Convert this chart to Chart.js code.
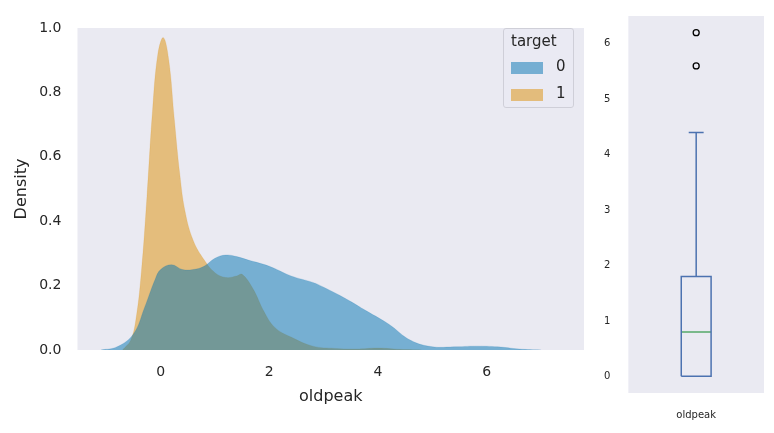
<!DOCTYPE html>
<html><head><meta charset="utf-8">
<script src="https://cdn.jsdelivr.net/npm/chart.js@4"></script>
<style>
body{margin:0;background:#fff;width:774px;height:433px;overflow:hidden;font-family:"DejaVu Sans",sans-serif;}
#c1{position:absolute;left:0;top:0;}
#c2{position:absolute;left:590px;top:0;}
#lg{position:absolute;left:503px;top:28px;width:69px;height:78px;background:rgba(234,234,242,0.8);border:1px solid #cfcfd8;border-radius:3px;font-size:15px;color:#262626;}
#lg .t{position:absolute;left:7px;top:3px;}
#lg .r{position:absolute;left:7px;width:32px;height:12px;}
#lg .l{position:absolute;left:52px;}
</style></head><body>
<canvas id="c1" width="600" height="433"></canvas>
<canvas id="c2" width="184" height="433"></canvas>
<div id="lg"><div class="t">target</div>
<div class="r" style="top:33px;background:rgba(1,115,178,0.5)"></div><div class="l" style="top:28px">0</div>
<div class="r" style="top:60px;background:rgba(222,143,5,0.5)"></div><div class="l" style="top:55px">1</div></div>
<script>
const x0=[-1.1,-0.8,-0.5,-0.3,-0.1,0,0.2,0.4,0.6,0.8,1.0,1.2,1.4,1.6,2.0,2.4,2.8,3.0,3.4,3.8,4.2,4.6,5.0,5.4,5.8,6.2,6.6,7.0];
const d0=[0,0.01,0.05,0.13,0.22,0.25,0.265,0.25,0.25,0.26,0.285,0.295,0.29,0.28,0.26,0.23,0.21,0.195,0.16,0.12,0.08,0.03,0.01,0.01,0.012,0.01,0.003,0];
const x1=[-0.7,-0.55,-0.45,-0.35,-0.25,-0.15,-0.05,0.05,0.15,0.25,0.35,0.45,0.6,0.8,1.0,1.2,1.4,1.5,1.7,1.9,2.1,2.4,2.8,3.2,3.6,4.0,4.4,4.8];
const d1=[0,0.03,0.1,0.25,0.48,0.74,0.92,0.97,0.9,0.72,0.55,0.43,0.34,0.28,0.24,0.225,0.23,0.235,0.19,0.12,0.07,0.04,0.012,0.005,0.003,0.006,0.002,0];
const boxQ1=0,boxMed=0.8,boxQ3=1.8,whiskLo=0,whiskHi=4.4;
const outliers=[5.6,6.2];
const xTicks0=[0,2,4,6];
const tc='#262626';
Chart.defaults.font.family='"DejaVu Sans",sans-serif';
const bgPlug={id:'bg',beforeDraw(c){const a=c.chartArea,x=c.ctx;x.save();x.fillStyle='#eaeaf2';x.fillRect(a.left,a.top,a.right-a.left,a.bottom-a.top);x.restore();}};
const pts=(xs,ys)=>xs.map((v,i)=>({x:v,y:ys[i]}));
new Chart(document.getElementById('c1'),{type:'line',
data:{datasets:[
{data:pts(x1,d1),backgroundColor:'rgba(222,143,5,0.5)',borderColor:'rgba(222,143,5,0.15)',borderWidth:1,fill:'origin',tension:0.4,pointRadius:0,order:2},
{data:pts(x0,d0),backgroundColor:'rgba(1,115,178,0.5)',borderColor:'rgba(1,115,178,0.15)',borderWidth:1,fill:'origin',tension:0.4,pointRadius:0,order:1}]},
options:{responsive:false,animation:false,layout:{padding:{top:28,right:16,bottom:23,left:8}},
plugins:{legend:{display:false},tooltip:{enabled:false}},
scales:{x:{type:'linear',min:-1.53,max:7.79,grid:{display:false},border:{display:false},
afterBuildTicks(s){s.ticks=xTicks0.map(v=>({value:v}));},
ticks:{color:tc,font:{size:14},padding:6},title:{display:true,text:'oldpeak',color:tc,font:{size:16},padding:{top:0}}},
y:{min:0,max:1.0,grid:{display:false},border:{display:false},ticks:{stepSize:0.2,color:tc,font:{size:14},padding:8,callback:v=>v.toFixed(1)},
title:{display:true,text:'Density',color:tc,font:{size:16},padding:{bottom:0}}}}},
plugins:[bgPlug]});
const bc='#4c72b0';
const w=0.22;
new Chart(document.getElementById('c2'),{type:'scatter',
data:{datasets:[
{data:[{x:-w,y:boxQ1},{x:w,y:boxQ1},{x:w,y:boxQ3},{x:-w,y:boxQ3},{x:-w,y:boxQ1}],showLine:true,borderColor:bc,borderWidth:1.5,pointRadius:0,tension:0},
{data:[{x:0,y:boxQ3},{x:0,y:whiskHi}],showLine:true,borderColor:bc,borderWidth:1.5,pointRadius:0},
{data:[{x:-w/2,y:whiskHi},{x:w/2,y:whiskHi}],showLine:true,borderColor:bc,borderWidth:1.5,pointRadius:0},
{data:[{x:-w,y:boxMed},{x:w,y:boxMed}],showLine:true,borderColor:'#55a868',borderWidth:1.5,pointRadius:0},
{data:outliers.map(v=>({x:0,y:v})),pointRadius:3,pointBorderColor:'#000',pointBorderWidth:1.3,pointBackgroundColor:'rgba(0,0,0,0)'}]},
options:{responsive:false,animation:false,layout:{padding:{top:15,right:10,bottom:4,left:4}},
plugins:{legend:{display:false},tooltip:{enabled:false}},
scales:{x:{type:'linear',min:-1,max:1,grid:{display:false},border:{display:false},
afterBuildTicks(s){s.ticks=[{value:0}];},ticks:{color:tc,font:{size:10},padding:8,callback:()=>'oldpeak'}},
y:{min:-0.3,max:6.5,grid:{display:false},border:{display:false},
afterBuildTicks(s){s.ticks=[0,1,2,3,4,5,6].map(v=>({value:v}));},ticks:{color:tc,font:{size:10},padding:10}}}},
plugins:[bgPlug]});
</script></body></html>
